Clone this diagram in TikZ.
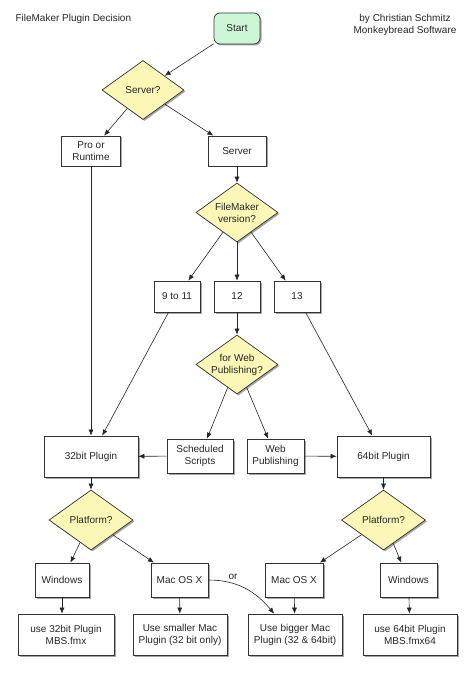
\documentclass[tikz,border=0pt]{standalone}
\usepackage{fontspec}
\setmainfont{Liberation Sans}
\usetikzlibrary{shapes.geometric,shadows,arrows.meta}
\definecolor{startgreen}{RGB}{205,246,214}
\definecolor{choiceyellow}{RGB}{251,247,182}
\begin{document}
\begin{tikzpicture}
    [
    x = 1pt, y = -1pt,
    every node/.style = {font=\fontsize{10}{12}\selectfont, align=center, text=black!85},
    arrow/.style = {draw=black!85, line width=0.6pt, -{Latex[length=6pt,width=5pt]}},
    ]
    \tikzstyle{box node}=[rectangle,draw=black!80,line width=0.7pt,fill=white,inner sep=2pt,
        drop shadow={shadow xshift=1.5pt,shadow yshift=-1.5pt,fill=black,opacity=0.35}]
    \tikzstyle{small node}=[box node,minimum width=46pt,minimum height=31pt]
    \tikzstyle{mid node}=[box node,minimum width=57pt,minimum height=34pt]
    \tikzstyle{big node}=[box node,minimum width=94pt,minimum height=41pt]
    \tikzstyle{choice node}=[diamond,draw=black!80,line width=0.7pt,fill=choiceyellow,inner sep=0pt,
        aspect=1.39,minimum width=82pt,minimum height=59pt,
        drop shadow={shadow xshift=1.5pt,shadow yshift=-1.5pt,fill=black,opacity=0.35}]
    \tikzstyle{start node}=[box node,rounded corners=6pt,fill=startgreen,minimum width=46pt,minimum height=31pt]

    \useasboundingbox (0,0) rectangle (474,676);

    \node[anchor=west] (title) at (12,19) {FileMaker Plugin Decision};
    \node[] (author) at (405,25) {by Christian Schmitz\\Monkeybread Software};

    \node[start node] (start) at (237,28.5) {Start};
    \node[choice node] (server) at (143,90) {Server?};
    \node[box node,minimum width=59pt,minimum height=30pt] (pro) at (91,151) {Pro or\\Runtime};
    \node[box node,minimum width=58pt,minimum height=30pt] (srv) at (237,151) {Server};
    \node[choice node] (fmver) at (237,212.5) {FileMaker\\version?};
    \node[small node] (v911) at (177,296.5) {9 to 11};
    \node[small node] (v12) at (237,296.5) {12};
    \node[small node] (v13) at (297,296.5) {13};
    \node[choice node] (web) at (237,364.5) {for Web\\Publishing?};
    \node[box node,minimum width=94pt,minimum height=41pt] (b32) at (91,456.5) {32bit Plugin};
    \node[mid node,minimum width=66pt] (sched) at (200,456) {Scheduled\\Scripts};
    \node[mid node] (webpub) at (275.5,456) {Web\\Publishing};
    \node[box node,minimum width=93pt,minimum height=41pt] (b64) at (383.5,456.5) {64bit Plugin};
    \node[choice node,minimum width=84pt,minimum height=60pt] (platl) at (91,520) {Platform?};
    \node[choice node,minimum width=84pt,minimum height=60pt] (platr) at (383.5,520) {Platform?};
    \node[mid node,minimum width=54pt] (winl) at (62,580) {Windows};
    \node[mid node] (macl) at (179.5,580) {Mac OS X};
    \node[mid node,minimum width=58pt] (macr) at (294,580) {Mac OS X};
    \node[mid node] (winr) at (408.5,580) {Windows};
    \node[big node,minimum width=96pt] (use32) at (66,634.5) {use 32bit Plugin\\MBS.fmx};
    \node[big node] (small) at (180,634.5) {Use smaller Mac\\Plugin (32 bit only)};
    \node[big node] (big) at (295,634.5) {Use bigger Mac\\Plugin (32 \& 64bit)};
    \node[big node] (use64) at (410,634.5) {use 64bit Plugin\\MBS.fmx64};
    \node[] (or) at (233,577) {or};

    \draw[arrow] (start) -- (server);
    \draw[arrow] (server) -- (pro);
    \draw[arrow] (server) -- (srv);
    \draw[arrow] (srv) -- (fmver);
    \draw[arrow] (fmver) -- (v911);
    \draw[arrow] (fmver) -- (v12);
    \draw[arrow] (fmver) -- (v13);
    \draw[arrow] (v12) -- (web);
    \draw[arrow] (pro) -- (b32);
    \draw[arrow] (v911) -- (b32);
    \draw[arrow] (v13) -- (b64);
    \draw[arrow] (web) -- (sched);
    \draw[arrow] (web) -- (webpub);
    \draw[arrow] (sched) -- (b32);
    \draw[arrow] (webpub) -- (b64);
    \draw[arrow] (b32) -- (platl);
    \draw[arrow] (b64) -- (platr);
    \draw[arrow] (platl) -- (winl);
    \draw[arrow] (platl) -- (macl);
    \draw[arrow] (platr) -- (macr);
    \draw[arrow] (platr) -- (winr);
    \draw[arrow] (winl.south) -- (winl.south |- use32.north);
    \draw[arrow] (macl) -- (small);
    \draw[arrow] (macr) -- (big);
    \draw[arrow] (winr) -- (use64);
    \draw[arrow] (macl.east) to[out=0,in=130] (big.135);
\end{tikzpicture}
\end{document}
